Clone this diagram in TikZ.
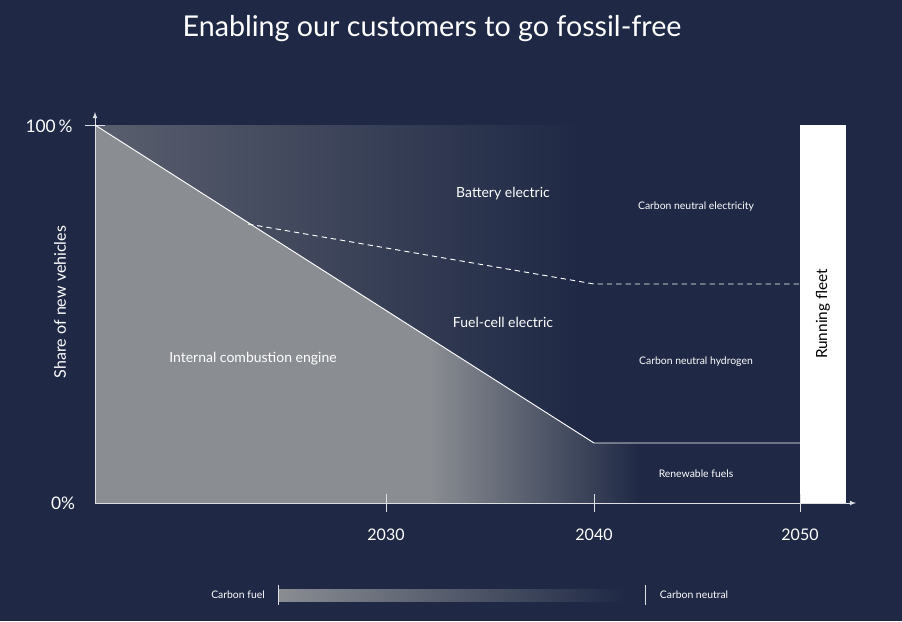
\documentclass[tikz,border=0pt]{standalone}
\usepackage{fontspec}
\setmainfont{Lato}
\usepackage{xcolor}
\definecolor{navy}{HTML}{1F2945}
\definecolor{icegray}{HTML}{8A8D92}
\definecolor{topgray}{HTML}{5A5F6E}
\tikzset{
  lbl/.style={text=white, font=\fontsize{10.5}{12}\selectfont, inner sep=1pt},
  small/.style={text=white, font=\fontsize{7.8}{9}\selectfont, inner sep=1pt},
  axisline/.style={white!85!navy, line width=0.6pt}}
\begin{document}
\begin{tikzpicture}[x=0.75pt, y=-0.75pt]
\fill[navy] (0,0) rectangle (902,621);
\useasboundingbox (0,0) rectangle (902,621);
% areas
\begin{scope}
  \clip (95,125) rectangle (580,503);
  \shade[left color=topgray, middle color=topgray!55!navy, right color=navy] (95,125) rectangle (580,503);
\end{scope}
\begin{scope}
  \clip (95,125) -- (594,443) -- (800,443) -- (800,503) -- (95,503) -- cycle;
  \fill[icegray] (95,125) rectangle (430,503);
  \shade[left color=icegray, right color=navy] (430,125) rectangle (640,503);
\end{scope}
\fill[white] (800,125) rectangle (846,503);
% axes
\coordinate (o) at (95,503);
\coordinate (ytop) at (95,112);
\coordinate (xend) at (856,503);
\draw[axisline, -latex] (o) -- (ytop);
\draw[axisline, -latex] (o) -- (xend);
\draw[axisline] (85,125) -- (105,125);
\foreach \x in {386,594,800} \draw[axisline] (\x,494) -- (\x,512);
% lines
\coordinate (a) at (95,125);
\coordinate (b) at (594,443);
\coordinate (c) at (800,443);
\coordinate (d) at (248,224);
\coordinate (e) at (594,284);
\coordinate (f) at (800,284);
\draw[white, line width=0.7pt] (a) -- (b) -- (c);
\draw[white, line width=0.7pt, dash pattern=on 4pt off 3pt] (d) -- (e) -- (f);
% labels
\node[text=white, font=\fontsize{21.5}{24}\selectfont] (title) at (432,29) {Enabling our customers to go fossil-free};
\node[text=white, font=\fontsize{13}{15}\selectfont] (p100) at (49,126) {100\,\%};
\node[text=white, font=\fontsize{13}{15}\selectfont] (p0) at (63,503) {0\%};
\node[lbl, rotate=90, font=\fontsize{12}{14}\selectfont] (ylab) at (60,302) {Share of new vehicles};
\node[lbl, font=\fontsize{12}{14}\selectfont] (y2030) at (386,535) {2030};
\node[lbl, font=\fontsize{12}{14}\selectfont] (y2040) at (594,535) {2040};
\node[lbl, font=\fontsize{12}{14}\selectfont] (y2050) at (800,535) {2050};
\node[lbl] (be) at (503,194) {Battery electric};
\node[small] (cne) at (696,207) {Carbon neutral electricity};
\node[lbl] (fce) at (503,322) {Fuel-cell electric};
\node[small] (cnh) at (696,362) {Carbon neutral hydrogen};
\node[lbl] (ice) at (253,359) {Internal combustion engine};
\node[small] (rf) at (696,474) {Renewable fuels};
\node[text=black, rotate=90, font=\fontsize{11.5}{13}\selectfont] (fleet) at (823,314) {Running fleet};
% legend
\shade[left color=icegray, middle color=icegray!70!navy, right color=navy] (278,589) rectangle (625,601);
\draw[axisline] (278,585) -- (278,605);
\draw[axisline] (645,585) -- (645,605);
\node[small] (cf) at (238,595) {Carbon fuel};
\node[small] (cn) at (694,595) {Carbon neutral};
\end{tikzpicture}
\end{document}
